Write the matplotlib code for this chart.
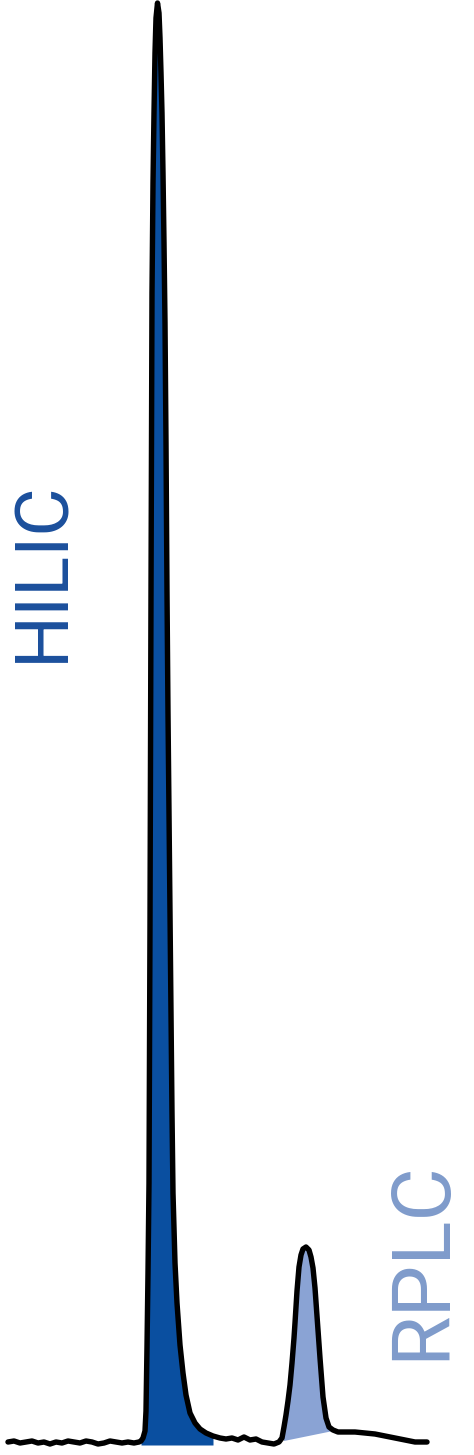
import numpy as np
import matplotlib.pyplot as plt

# chromatogram trace (x in px-like time units, signal above baseline)
time = [8, 14, 20, 26, 32, 38, 44, 50, 56, 62, 68, 74, 80, 86, 92, 98, 104, 110, 116, 122, 128, 134, 139,
        141, 143, 145, 146, 147, 148, 149, 150, 151, 152, 153, 154, 155, 156, 157.5,
        159, 160, 161, 162, 163, 164, 165, 166, 167, 168, 169, 170, 171, 172, 173, 175, 177, 180,
        183, 186, 190, 195, 200, 206, 213, 220, 226,
        232, 238, 244, 250, 256, 262, 268, 274, 279,
        282, 284, 286, 288, 290, 292, 294, 295, 297, 299, 301, 303, 306, 309, 311, 313, 315, 318, 320, 323,
        326, 329, 333, 338, 345, 355, 365, 375, 385, 395, 405, 415, 427]
signal = [1, 2, 0, 1, 2, 0, 1, -1, 1, 0, 2, 1, 0, 2, 1, -1, 0, 2, 1, 0, 1, 0, 1,
          2, 5, 12, 32, 96, 170, 260, 520, 850, 1150, 1260, 1330, 1390, 1425, 1440,
          1430, 1405, 1370, 1330, 1270, 1200, 1120, 1000, 850, 730, 630, 530, 430, 330, 250, 180, 140, 98,
          70, 48, 30, 20, 14, 10, 7, 5, 4,
          5, 3, 6, 3, 4, 1, 0, -1, 1,
          5, 16, 28, 42, 58, 80, 105, 120, 152, 176, 188, 194, 196, 193, 186, 175, 155, 113, 85, 46,
          25, 16, 13, 11, 11, 11, 10, 9, 7, 5, 3, 1, 1]

# peak windows (in time units) and label text
hilic_window = (141, 213)
rplc_window = (284, 333)
labels = ["HILIC", "RPLC"]

hilic_color = "#0a4fa0"
rplc_color = "#8aa3d4"

t = np.array(time, dtype=float)
s = np.array(signal, dtype=float)

fig = plt.figure(figsize=(4.74, 14.55), dpi=100)
ax = fig.add_axes([0, 0, 1, 1])
ax.set_xlim(0, 474)
ax.set_ylim(-12, 1443)
ax.axis("off")

# HILIC peak filled down to the baseline
m1 = (t >= hilic_window[0]) & (t <= hilic_window[1])
ax.fill_between(t[m1], s[m1], -2, color=hilic_color, lw=0)

# RPLC peak filled down to a slanted drop line
m2 = (t >= rplc_window[0]) & (t <= rplc_window[1])
px = list(t[m2]) + [rplc_window[1], rplc_window[0]]
py = list(s[m2]) + [12, 2]
ax.fill(px, py, color=rplc_color, lw=0)

ax.plot(t, s, color="black", lw=3.9, solid_joinstyle="round", solid_capstyle="round")

fam = ["Liberation Sans Narrow", "Roboto", "DejaVu Sans"]
ax.text(43, 872, labels[0], rotation=90, color="#1b4f9c", fontsize=53.5,
        ha="center", va="center", family=fam)
ax.text(422, 183, labels[1], rotation=90, color="#7f9bcb", fontsize=59,
        ha="center", va="center", family=fam)

fig.savefig("out.png", dpi=100)
